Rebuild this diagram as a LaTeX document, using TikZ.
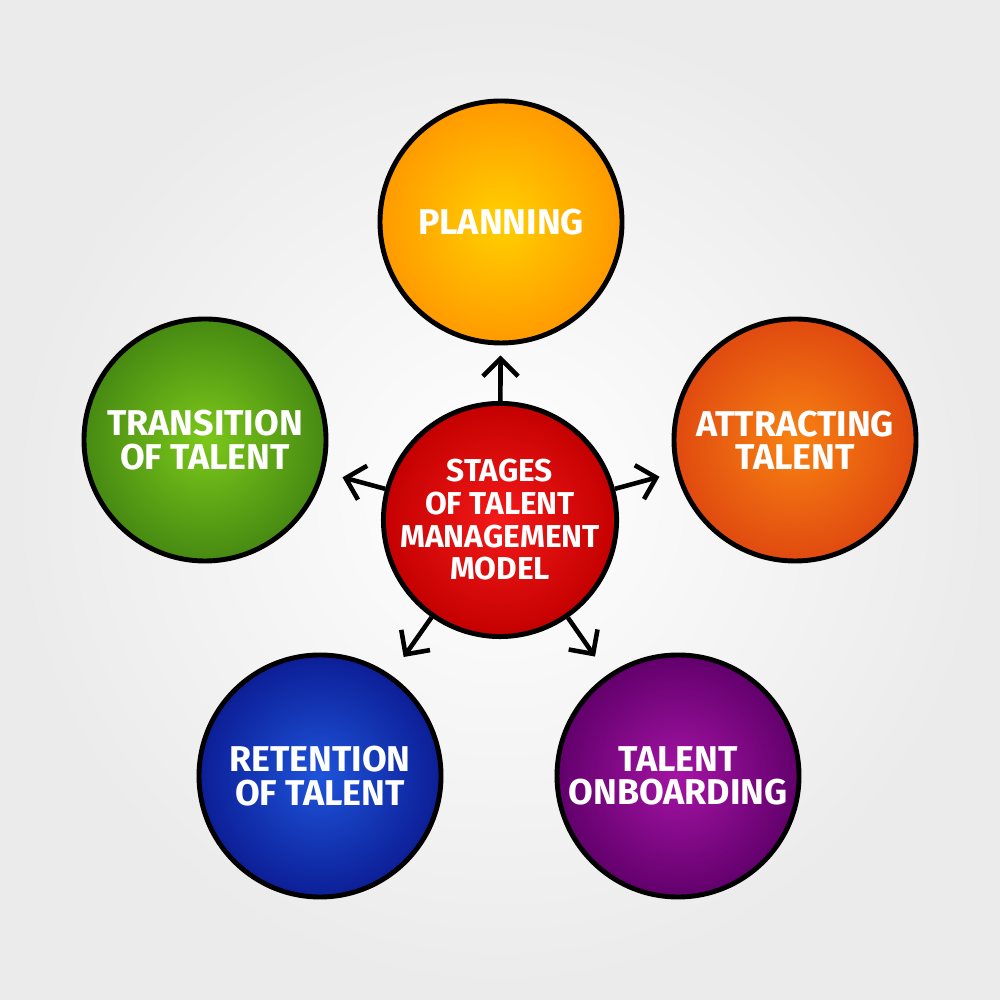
\documentclass[tikz,border=0pt]{standalone}
\usepackage{fontspec}
\setmainfont{Fira Sans}
\usetikzlibrary{arrows.meta}
\definecolor{plin}{HTML}{FFD000}
\definecolor{plout}{HTML}{FF9A00}
\definecolor{atin}{HTML}{F88212}
\definecolor{atout}{HTML}{E04A10}
\definecolor{trin}{HTML}{7CC81A}
\definecolor{trout}{HTML}{468A12}
\definecolor{rein}{HTML}{1E54DA}
\definecolor{reout}{HTML}{0C1E96}
\definecolor{onin}{HTML}{A414A4}
\definecolor{onout}{HTML}{62006C}
\definecolor{hubin}{HTML}{F41A1A}
\definecolor{hubout}{HTML}{C40000}
\tikzstyle{stage}=[circle, draw=black, line width=1.4pt, inner sep=0pt, minimum size=2.42cm, text=white, align=center, shading=radial, font=\fontsize{10.2}{9.5}\selectfont\bfseries]
\tikzstyle{hub}=[stage, minimum size=2.26cm, font=\fontsize{9}{9.3}\selectfont\bfseries]
\tikzstyle{link}=[line width=1.3pt, -{Straight Barb[length=5pt, width=10pt]}]

\begin{document}
\begin{tikzpicture}
        \useasboundingbox (0, 0) rectangle (10, 10);
        \shade[inner color=white, outer color=black!8] (0, 0) rectangle (10, 10);
        \node[hub, inner color=hubin, outer color=hubout]  (C)  at (5.00, 4.80) {STAGES\\OF TALENT\\MANAGEMENT\\MODEL};
        \node[stage, inner color=plin, outer color=plout]  (Pl) at (5.01, 7.78) {PLANNING};
        \node[stage, inner color=atin, outer color=atout]  (At) at (7.95, 5.60) {ATTRACTING\\TALENT};
        \node[stage, inner color=trin, outer color=trout]  (Tr) at (2.05, 5.60) {TRANSITION\\OF TALENT};
        \node[stage, inner color=rein, outer color=reout]  (Re) at (3.20, 2.24) {RETENTION\\OF TALENT};
        \node[stage, inner color=onin, outer color=onout]  (On) at (6.78, 2.24) {TALENT\\ONBOARDING};
        \draw[link, shorten >=0.10cm] (C) -- (Pl);
        \draw[link, shorten >=0.17cm] (C) -- (At);
        \draw[link, shorten >=0.19cm] (C) -- (Tr);
        \draw[link, shorten >=0.22cm] (C) -- (Re);
        \draw[link, shorten >=0.22cm] (C) -- (On);
    \end{tikzpicture}
\end{document}
